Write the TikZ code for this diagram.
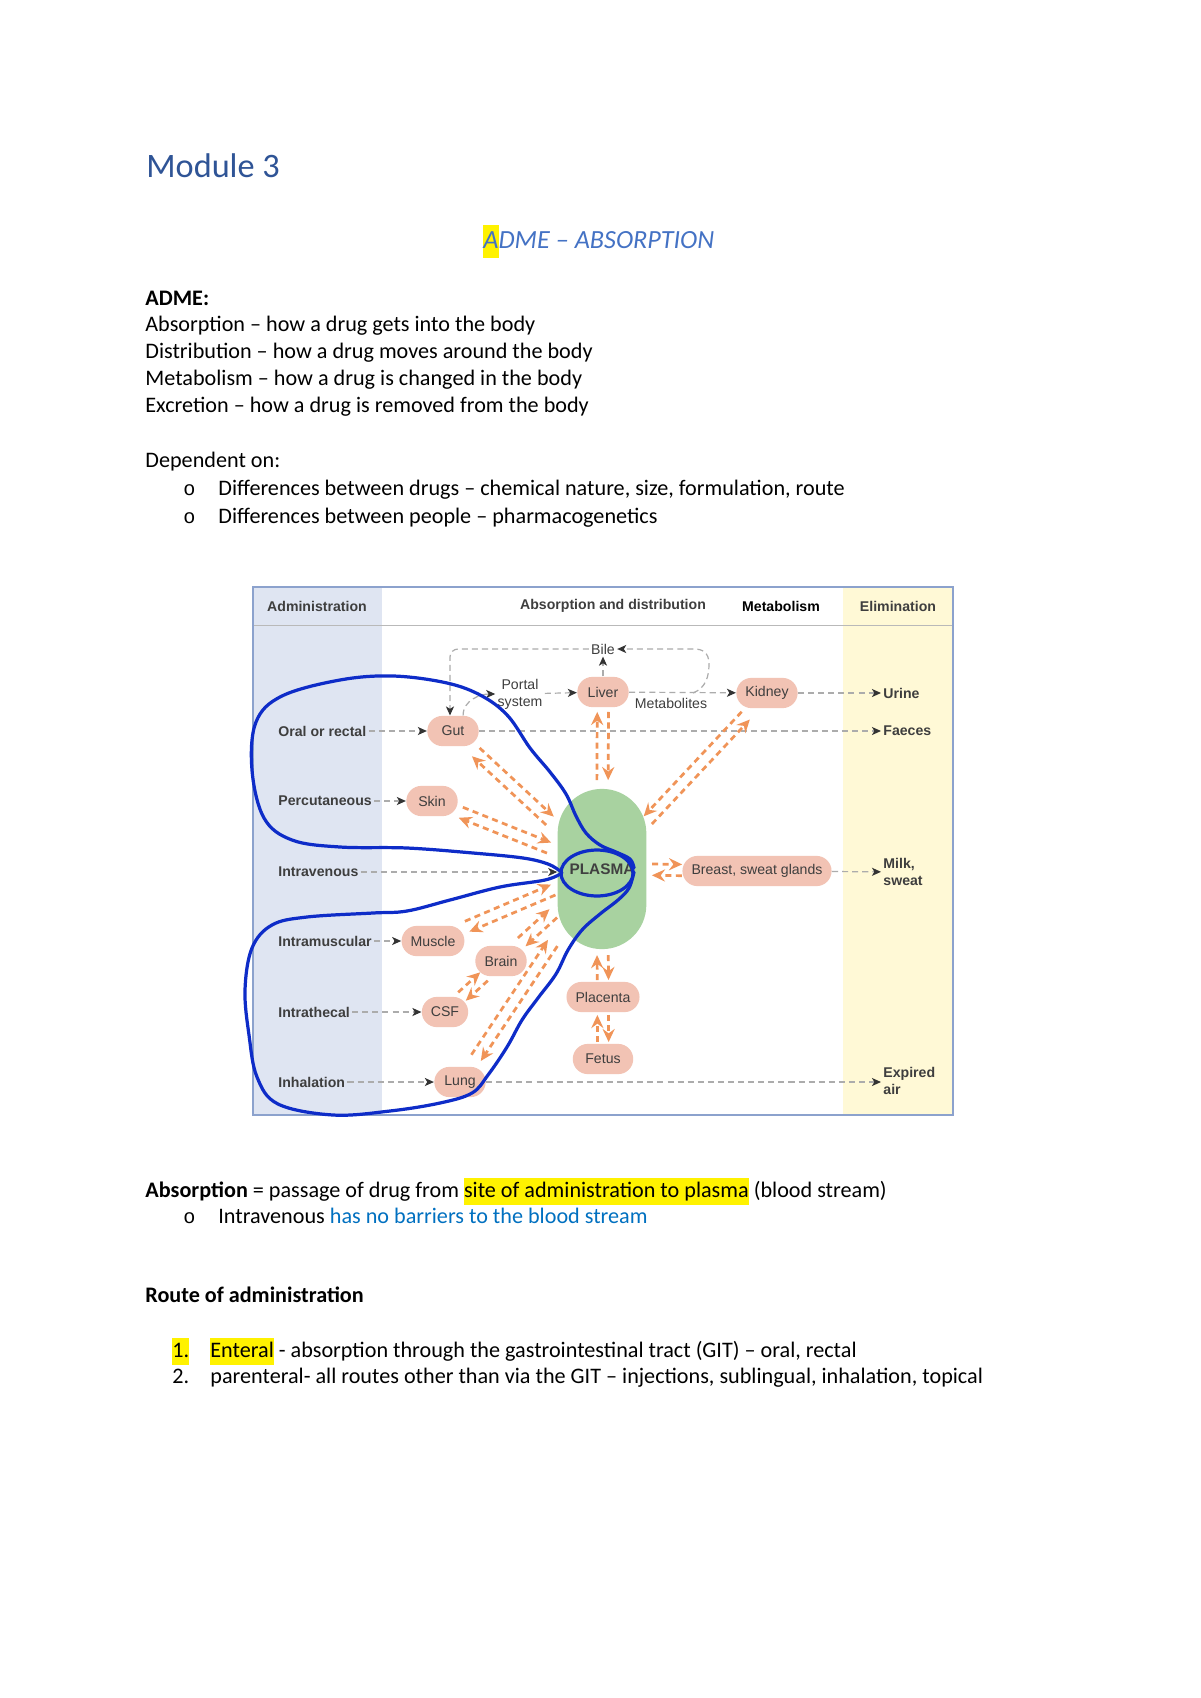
\documentclass[tikz,border=0pt]{standalone}
\usepackage{fontspec}
\setmainfont{Carlito}
\newfontfamily\arialf{Liberation Sans}
\newfontfamily\monof{Liberation Mono}
\usepackage{xcolor}
\usetikzlibrary{arrows.meta,calc}
\definecolor{headblue}{RGB}{47,84,150}
\definecolor{titleblue}{RGB}{68,114,196}
\definecolor{linkblue}{RGB}{0,112,192}
\definecolor{admfill}{RGB}{223,229,242}
\definecolor{elimfill}{RGB}{255,249,214}
\definecolor{boxline}{RGB}{140,162,205}
\definecolor{orgfill}{RGB}{242,195,180}
\definecolor{plasfill}{RGB}{168,210,160}
\definecolor{orgline}{RGB}{240,148,88}
\definecolor{dgtext}{RGB}{62,62,62}
\definecolor{inkblue}{RGB}{14,44,200}
\newcommand\dg{\arialf\fontsize{7}{8.4}\selectfont}
\newcommand\hl[1]{{\setlength{\fboxsep}{0pt}\colorbox{yellow}{\strut#1}}}
\tikzset{
  txt/.style={anchor=base west,inner sep=0pt,font=\fontsize{11}{13.4}\selectfont},
  org/.style={fill=orgfill,rounded corners=7.5pt,minimum width=25.5pt,minimum height=15pt,inner xsep=4.5pt,inner ysep=0pt,font=\dg,text=dgtext},
  plas/.style={fill=plasfill,rounded corners=22pt,minimum width=44pt,minimum height=79.5pt,inner sep=0pt,font=\arialf\fontsize{7.6}{9}\selectfont\bfseries,text=black!75},
  adm/.style={anchor=west,inner sep=1pt,font=\dg\bfseries,text=dgtext},
  elim/.style={anchor=west,inner sep=1pt,align=left,font=\dg\bfseries,text=dgtext},
  lbl/.style={inner sep=1pt,font=\dg,text=dgtext},
  hd/.style={font=\dg\bfseries,text=dgtext},
  garr/.style={draw=gray!65,line width=0.6pt,dash pattern=on 3pt off 2pt,-{Stealth[length=4.5pt,width=4pt,inset=1.2pt,color=black!80]}},
  oarr/.style={draw=orgline,line width=1.35pt,dash pattern=on 3pt off 2.2pt,-{Stealth[length=6.5pt,width=6pt,inset=2.2pt]}},
  ink/.style={draw=inkblue,line width=1.6pt,line cap=round,line join=round},
}
% two dashed arrows side by side, one each way
\newcommand\twoway[5][2.8pt]{%
  \draw[oarr,shorten <=#4,shorten >=#5] ($(#2)!#1!90:(#3)$) -- ($(#3)!#1!-90:(#2)$);
  \draw[oarr,shorten <=#5,shorten >=#4] ($(#3)!#1!90:(#2)$) -- ($(#2)!#1!-90:(#3)$);}

\begin{document}
\begin{tikzpicture}[x=0.4961pt,y=-0.4961pt]
  \useasboundingbox[fill=white] (0,0) rectangle (1200,1698);
  % text above
  \node[txt,font=\fontsize{17}{20}\selectfont,text=headblue] (mod) at (146,177) {Module 3};
  \node[txt,font=\fontsize{13}{16}\selectfont\itshape,text=titleblue] (ttl) at (483,248) {\hl{A}DME – ABSORPTION};
  \node[txt] (adme) at (145,305) {\textbf{ADME:}};
  \node[txt] (la) at (145,331) {Absorption – how a drug gets into the body};
  \node[txt] (ld) at (145,358) {Distribution – how a drug moves around the body};
  \node[txt] (lm) at (145,385) {Metabolism – how a drug is changed in the body};
  \node[txt] (le) at (145,412) {Excretion – how a drug is removed from the body};
  \node[txt] (dep) at (145,467) {Dependent on:};
  \node[txt,font=\fontsize{10}{13.4}\selectfont] (o1) at (183,495) {\monof o};
  \node[txt] (d1) at (218,495) {Differences between drugs – chemical nature, size, formulation, route};
  \node[txt,font=\fontsize{10}{13.4}\selectfont] (o2) at (183,523) {\monof o};
  \node[txt] (d2) at (218,523) {Differences between people – pharmacogenetics};

  % diagram frame
  \fill[admfill] (253,587) rectangle (382,1115);
  \fill[elimfill] (843,587) rectangle (953,1115);
  \draw[gray!55,line width=0.5pt] (253,625) -- (953,625);
  \draw[boxline,line width=0.7pt] (253,587) rectangle (953,1115);
  \node[hd] (hadm) at (317,606) {Administration};
  \node[hd] (habs) at (613,606) {Absorption and distribution};
  \node[hd,text=black] (hmet) at (781,606) {Metabolism};
  \node[hd] (helim) at (898,606) {Elimination};

  % organs
  \node[org] (gut) at (453,731) {Gut};
  \node[org] (liver) at (603,692) {Liver};
  \node[org] (kidney) at (767,693) {Kidney};
  \node[org] (skin) at (432,801) {Skin};
  \node[plas] (plasma) at (602,869) {PLASMA};
  \node[org] (breast) at (757,871) {Breast, sweat glands};
  \node[org] (muscle) at (433,941) {Muscle};
  \node[org] (brain) at (501,961) {Brain};
  \node[org] (placenta) at (603,997) {Placenta};
  \node[org,minimum width=22.5pt] (csf) at (445,1012) {CSF};
  \node[org,minimum width=30pt] (fetus) at (603,1059) {Fetus};
  \node[org] (lung) at (460,1082) {Lung};

  % routes in and out
  \node[adm] (oral) at (276,731) {Oral or rectal};
  \node[adm] (perc) at (276,801) {Percutaneous};
  \node[adm] (iv) at (276,872) {Intravenous};
  \node[adm] (im) at (276,941) {Intramuscular};
  \node[adm] (ith) at (276,1012) {Intrathecal};
  \node[adm] (inh) at (276,1082) {Inhalation};
  \node[elim] (urine) at (881,693) {Urine};
  \node[elim] (faeces) at (881,731) {Faeces};
  \node[elim] (milk) at (881,872) {Milk,\\sweat};
  \node[elim] (expired) at (881,1081) {Expired\\air};
  \node[lbl] (bile) at (603,649) {Bile};
  \node[lbl,align=center] (portal) at (520,694) {Portal\\system};
  \node[lbl] (metab) at (671,703) {Metabolites};

  \draw[garr] (oral) -- (gut);
  \draw[garr] (perc) -- (skin);
  \draw[garr] (iv) -- (iv -| plasma.west);
  \draw[garr] (im) -- (muscle);
  \draw[garr] (ith) -- (csf);
  \draw[garr] (inh) -- (lung);
  \draw[garr] (gut) -- (faeces);
  \draw[garr] (lung) -- (lung -| expired.west);
  \draw[garr] (kidney) -- (urine);
  \draw[garr] (breast) -- (milk);
  \draw[garr] (portal) -- (liver);
  \draw[garr] (liver) -- (kidney);
  \draw[garr] (liver) -- (bile);
  \coordinate (mloop) at (693,693);
  \draw[garr] (mloop) .. controls (706,688) and (709,676) .. (709,664)
    .. controls (709,652) and (702,649) .. (694,649) -- (bile);
  \draw[garr,rounded corners=4pt] (bile) -| ([xshift=-1.5pt]gut.north);
  \draw[garr] ([xshift=5pt]gut.north) to[out=90,in=180] (portal.west);

  % exchange with plasma
  \twoway{gut}{plasma}{15.4pt}{35.2pt}
  \twoway{skin}{plasma}{15.4pt}{28.3pt}
  \twoway{liver}{plasma}{9.9pt}{44.1pt}
  \twoway[-2.8pt]{kidney}{plasma}{15.4pt}{33.2pt}
  \twoway{plasma}{breast}{24.8pt}{37.2pt}
  \twoway{muscle}{plasma}{18.4pt}{26.3pt}
  \twoway{brain}{plasma}{13.9pt}{32.7pt}
  \twoway{csf}{brain}{11.4pt}{11.4pt}
  \twoway{lung}{plasma}{14.4pt}{44.1pt}
  \twoway{plasma}{placenta}{42.7pt}{8.4pt}
  \twoway{placenta}{fetus}{8.9pt}{8.4pt}

  % pen marks
  \draw[ink] plot[smooth,tension=0.6] coordinates {(560,871) (548,864) (523,858) (473,853)
    (407,848) (340,847) (292,840) (264,818) (252,770) (256,722) (282,696) (340,680)
    (393,676) (447,683) (482,696) (508,716) (530,748) (550,772) (566,794) (576,816)
    (586,833) (600,845) (616,852) (630,859) (634,868)};
  \draw[ink] (597,873) ellipse [x radius=17.9pt,y radius=11.4pt];
  \draw[ink] plot[smooth,tension=0.6] coordinates {(562,873) (545,880) (500,887) (450,900)
    (407,911) (373,913) (307,917) (272,925) (252,948) (245,990) (249,1035) (257,1077)
    (278,1104) (333,1115) (390,1111) (440,1103) (472,1093) (488,1075) (507,1047)
    (522,1020) (538,998) (556,974) (568,950) (582,930) (600,914) (618,900) (629,888)
    (634,872)};

  % text below
  \node[txt] (absdef) at (145,1197) {\textbf{Absorption} = passage of drug from \hl{site of administration to plasma} (blood stream)};
  \node[txt,font=\fontsize{10}{13.4}\selectfont] (o3) at (183,1223) {\monof o};
  \node[txt] (iv2) at (218,1223) {Intravenous \textcolor{linkblue}{has no barriers to the blood stream}};
  \node[txt] (route) at (145,1302) {\textbf{Route of administration}};
  \node[txt] (n1) at (172,1357) {\hl{1.}};
  \node[txt] (r1) at (210,1357) {\hl{Enteral} - absorption through the gastrointestinal tract (GIT) – oral, rectal};
  \node[txt] (n2) at (172,1383) {2.};
  \node[txt] (r2) at (210,1383) {parenteral- all routes other than via the GIT – injections, sublingual, inhalation, topical};
\end{tikzpicture}
\end{document}
